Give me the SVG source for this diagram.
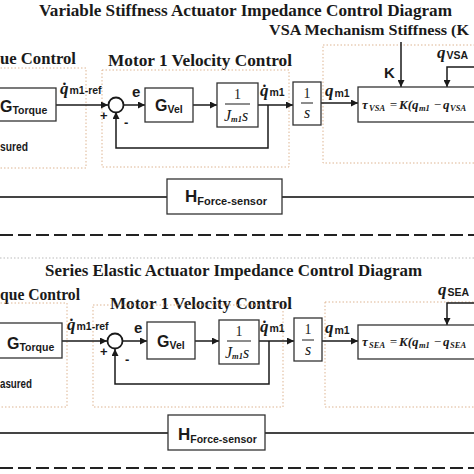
<svg xmlns="http://www.w3.org/2000/svg" width="474" height="474" viewBox="0 0 474 474">
<defs>
<marker id="ah" viewBox="0 0 10 10" refX="10" refY="5" markerWidth="7" markerHeight="7" orient="auto" markerUnits="userSpaceOnUse"><path d="M0,0 L10,5 L0,10 z" fill="#1a1a1a"/></marker>
<style>
.bg{fill:#fff}
.box{fill:#fff;stroke:#333;stroke-width:1.3}
.grp{fill:none;stroke:#ddb592;stroke-width:1;stroke-dasharray:1.5 2}
.wa{fill:none;stroke:#1a1a1a;stroke-width:1.5;marker-end:url(#ah)}
.sep{fill:none;stroke:#222;stroke-width:2;stroke-dasharray:13 5}
.dot{fill:none;stroke:#bbb;stroke-width:1;stroke-dasharray:1.5 2}
.hl{fill:none;stroke:#444;stroke-width:1.8}
.ti{font-family:"Liberation Serif","DejaVu Serif",serif;font-weight:bold;font-size:17px;fill:#1a1a1a}
.sa{font-family:"Liberation Sans",Arial,sans-serif;font-weight:bold;fill:#1a1a1a}
.big{font-size:16px}
.sub{font-size:10.5px}
.sm{font-size:12px}
.mq{font-family:"Liberation Serif","DejaVu Serif",serif;font-style:italic;font-weight:bold;fill:#1a1a1a;font-size:17px}
.mt{font-family:"Liberation Serif","DejaVu Serif",serif;font-style:italic;fill:#1a1a1a;font-size:13px}
.mb{font-weight:bold}
.ms{font-size:8.5px;font-weight:bold}
.mf{font-family:"Liberation Serif","DejaVu Serif",serif;fill:#1a1a1a;font-size:14px}
.mi{font-family:"Liberation Serif","DejaVu Serif",serif;font-style:italic;fill:#1a1a1a;font-size:16px}
.sgn{font-family:"Liberation Sans",Arial,sans-serif;font-weight:bold;fill:#1a1a1a;font-size:13px}
</style>
</defs>
<rect class="bg" x="0" y="0" width="474" height="474"/>

<!-- ===== TOP PANEL ===== -->
<g id="top-titles">
<text class="ti" x="39" y="16" textLength="413" lengthAdjust="spacingAndGlyphs">Variable Stiffness Actuator Impedance Control Diagram</text>
<text class="ti" x="269" y="35" font-size="15" style="font-size:15px" textLength="200" lengthAdjust="spacingAndGlyphs">VSA Mechanism Stiffness (K</text>
<text class="ti" x="0" y="64" textLength="76" lengthAdjust="spacingAndGlyphs">ue Control</text>
<text class="ti" x="108" y="66" textLength="184" lengthAdjust="spacingAndGlyphs">Motor 1 Velocity Control</text>
</g>
<g id="top-groups">
<rect class="grp" x="-10" y="68" width="96" height="100"/>
<rect class="grp" x="102" y="70" width="187" height="97"/>
<rect class="grp" x="323" y="45" width="160" height="118"/>
</g>
<g id="top-connectors">
<line class="wa" x1="56" y1="105" x2="108" y2="105"/>
<line class="wa" x1="123" y1="105" x2="145" y2="105"/>
<line class="wa" x1="193" y1="105" x2="217" y2="105"/>
<line class="wa" x1="258" y1="105" x2="293" y2="105"/>
<polyline class="wa" points="268,105 268,148 116,148 116,112"/>
<line class="wa" x1="321" y1="103" x2="358" y2="103"/>
<line class="wa" x1="401" y1="42" x2="401" y2="87"/>
<polyline class="wa" points="480,67 447,67 447,87"/>
<line class="hl" x1="0" y1="197" x2="167" y2="197"/>
<line class="hl" x1="282" y1="197" x2="474" y2="197"/>
</g>
<g id="top-gtorque">
<rect class="box" x="-10" y="88" width="66" height="33"/>
<text class="sa" x="0" y="112"><tspan class="big">G</tspan><tspan class="sub" dy="2">Torque</tspan></text>
</g>
<g id="top-sum">
<circle cx="116" cy="105" r="7.5" fill="#fff" stroke="#1a1a1a" stroke-width="1.8"/>
<text class="sgn" x="100" y="120">+</text>
<text class="sgn" x="124" y="127">-</text>
</g>
<g id="top-labels">
<text x="60" y="94"><tspan class="mq">q̇</tspan><tspan class="sa sub" dx="1">m1-ref</tspan></text>
<text class="sa" x="132" y="97" font-size="15">e</text>
<text x="260" y="96"><tspan class="mq">q̇</tspan><tspan class="sa sub" dx="1">m1</tspan></text>
<text x="325" y="96"><tspan class="mq">q</tspan><tspan class="sa sub" dx="1" dy="1">m1</tspan></text>
<text class="sa" x="384" y="78" font-size="15">K</text>
<text x="437" y="58"><tspan class="mq">q</tspan><tspan class="sa sub" dx="1" dy="1">VSA</tspan></text>
<text class="sa sm" x="0" y="151" textLength="28" lengthAdjust="spacingAndGlyphs">sured</text>
</g>
<g id="top-gvel">
<rect class="box" x="145" y="88" width="48" height="34"/>
<text class="sa" x="155" y="111"><tspan class="big">G</tspan><tspan class="sub" dy="2">Vel</tspan></text>
</g>
<g id="top-motor">
<rect class="box" x="217" y="83" width="41" height="44"/>
<text class="mf" x="237.5" y="99" text-anchor="middle">1</text>
<line x1="225" y1="104" x2="250" y2="104" stroke="#1a1a1a" stroke-width="1"/>
<text x="224" y="121"><tspan class="mi">J</tspan><tspan class="mt ms" dy="1">m1</tspan><tspan class="mi" dy="-1">s</tspan></text>
</g>
<g id="top-integ">
<rect class="box" x="293" y="82" width="28" height="43"/>
<text class="mf" x="307" y="98" text-anchor="middle">1</text>
<line x1="301" y1="103" x2="313" y2="103" stroke="#1a1a1a" stroke-width="1"/>
<text class="mi" x="307" y="118" text-anchor="middle">s</text>
</g>
<g id="top-mech">
<rect class="box" x="358" y="87" width="130" height="35"/>
<text class="mt" y="109"><tspan class="mb" x="362">τ</tspan><tspan class="ms" x="369" dy="2">VSA</tspan><tspan x="389" dy="-2">=</tspan><tspan class="mb" x="399">K(q</tspan><tspan class="ms" x="419" dy="2">m1</tspan><tspan x="433" dy="-2">−</tspan><tspan class="mb" x="443">q</tspan><tspan class="ms" x="450" dy="2">VSA</tspan></text>
</g>
<g id="top-hforce">
<rect class="box" x="167" y="179" width="115" height="35"/>
<text class="sa" x="185" y="202"><tspan font-size="17">H</tspan><tspan font-size="11" dy="3">Force-sensor</tspan></text>
</g>

<!-- separators -->
<g id="separators">
<line class="sep" x1="0" y1="235" x2="474" y2="235"/>
<line class="dot" x1="0" y1="258" x2="474" y2="258"/>
<line class="sep" x1="0" y1="468" x2="474" y2="468"/>
</g>

<!-- ===== BOTTOM PANEL ===== -->
<g id="bot-titles">
<text class="ti" x="45" y="276" textLength="377" lengthAdjust="spacingAndGlyphs">Series Elastic Actuator Impedance Control Diagram</text>
<text class="ti" x="0" y="300" textLength="80" lengthAdjust="spacingAndGlyphs">que Control</text>
<text class="ti" x="110" y="309" textLength="182" lengthAdjust="spacingAndGlyphs">Motor 1 Velocity Control</text>
</g>
<g id="bot-groups">
<rect class="grp" x="-10" y="303" width="77" height="104"/>
<rect class="grp" x="93" y="305" width="190" height="102"/>
<rect class="grp" x="325" y="302" width="160" height="105"/>
</g>
<g id="bot-connectors">
<line class="wa" x1="62" y1="341" x2="107" y2="341"/>
<line class="wa" x1="123" y1="341" x2="147" y2="341"/>
<line class="wa" x1="195" y1="341" x2="219" y2="341"/>
<line class="wa" x1="259" y1="341" x2="294" y2="341"/>
<polyline class="wa" points="269,341 269,384 115,384 115,349"/>
<line class="wa" x1="322" y1="341" x2="358" y2="341"/>
<polyline class="wa" points="480,303 447,303 447,325"/>
<line class="hl" x1="0" y1="433" x2="168" y2="433"/>
<line class="hl" x1="265" y1="433" x2="474" y2="433"/>
</g>
<g id="bot-gtorque">
<rect class="box" x="-10" y="323" width="72" height="35"/>
<text class="sa" x="7" y="349"><tspan class="big">G</tspan><tspan class="sub" dy="2">Torque</tspan></text>
</g>
<g id="bot-sum">
<circle cx="115" cy="341" r="7.5" fill="#fff" stroke="#1a1a1a" stroke-width="1.8"/>
<text class="sgn" x="100" y="356">+</text>
<text class="sgn" x="125" y="364">-</text>
</g>
<g id="bot-labels">
<text x="67" y="330"><tspan class="mq">q̇</tspan><tspan class="sa sub" dx="1">m1-ref</tspan></text>
<text class="sa" x="134" y="333" font-size="15">e</text>
<text x="260" y="332"><tspan class="mq">q̇</tspan><tspan class="sa sub" dx="1">m1</tspan></text>
<text x="325" y="333"><tspan class="mq">q</tspan><tspan class="sa sub" dx="1" dy="1">m1</tspan></text>
<text x="438" y="295"><tspan class="mq">q</tspan><tspan class="sa sub" dx="1" dy="1">SEA</tspan></text>
<text class="sa sm" x="0" y="388" textLength="32" lengthAdjust="spacingAndGlyphs">asured</text>
</g>
<g id="bot-gvel">
<rect class="box" x="147" y="322" width="48" height="37"/>
<text class="sa" x="157" y="347"><tspan class="big">G</tspan><tspan class="sub" dy="2">Vel</tspan></text>
</g>
<g id="bot-motor">
<rect class="box" x="219" y="320" width="40" height="44"/>
<text class="mf" x="239" y="336" text-anchor="middle">1</text>
<line x1="227" y1="341" x2="251" y2="341" stroke="#1a1a1a" stroke-width="1"/>
<text x="225" y="358"><tspan class="mi">J</tspan><tspan class="mt ms" dy="1">m1</tspan><tspan class="mi" dy="-1">s</tspan></text>
</g>
<g id="bot-integ">
<rect class="box" x="294" y="318" width="28" height="43"/>
<text class="mf" x="308" y="334" text-anchor="middle">1</text>
<line x1="302" y1="340" x2="314" y2="340" stroke="#1a1a1a" stroke-width="1"/>
<text class="mi" x="308" y="355" text-anchor="middle">s</text>
</g>
<g id="bot-mech">
<rect class="box" x="358" y="325" width="130" height="34"/>
<text class="mt" y="346"><tspan class="mb" x="362">τ</tspan><tspan class="ms" x="369" dy="2">SEA</tspan><tspan x="389" dy="-2">=</tspan><tspan class="mb" x="399">K(q</tspan><tspan class="ms" x="419" dy="2">m1</tspan><tspan x="433" dy="-2">−</tspan><tspan class="mb" x="443">q</tspan><tspan class="ms" x="450" dy="2">SEA</tspan></text>
</g>
<g id="bot-hforce">
<rect class="box" x="168" y="415" width="97" height="35"/>
<text class="sa" x="178" y="440"><tspan font-size="17">H</tspan><tspan font-size="10.5" dy="3">Force-sensor</tspan></text>
</g>
</svg>
